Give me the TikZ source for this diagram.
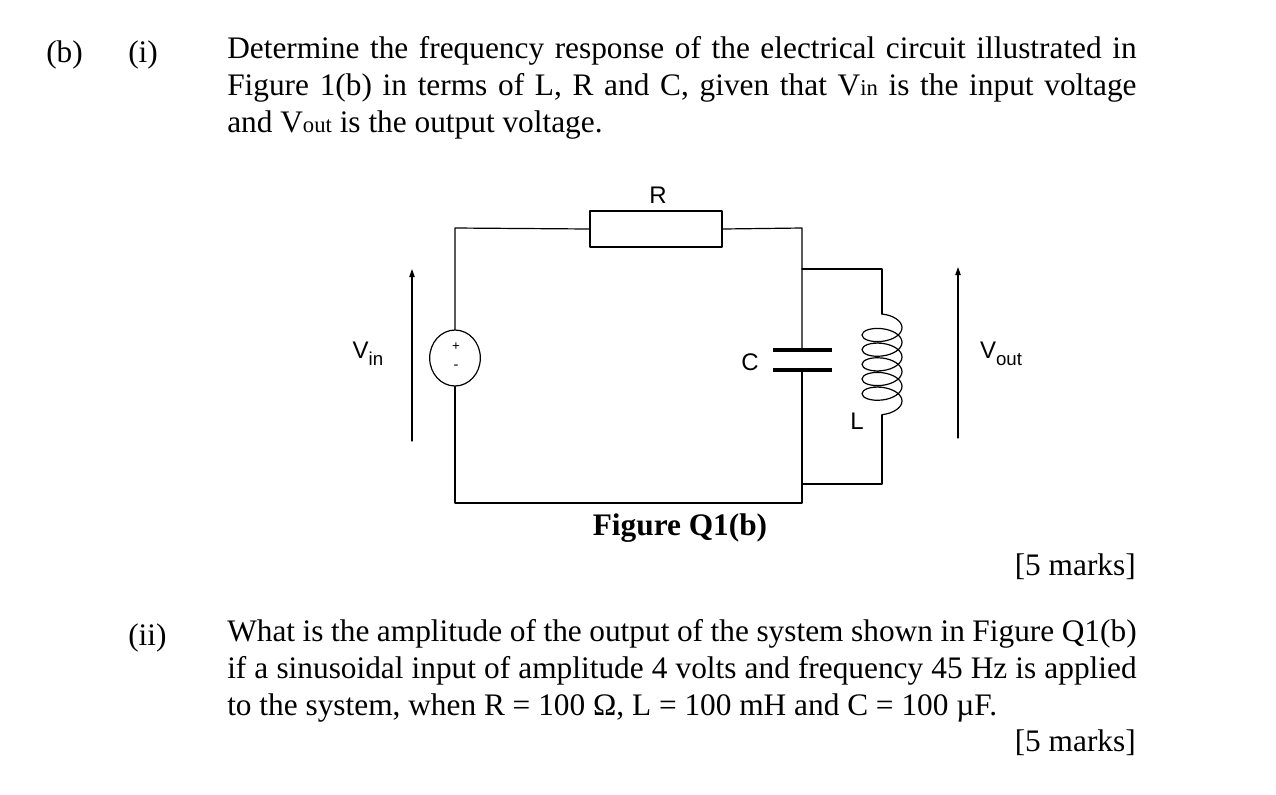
\documentclass[tikz,border=0pt]{standalone}
\usepackage{fontspec}
\setmainfont{Liberation Serif}
\newfontfamily\cktfont{Liberation Sans}
\usetikzlibrary{decorations.pathmorphing,arrows.meta,shapes.geometric}
\newcommand{\sbs}[1]{{\fontsize{17}{17}\selectfont #1}}
\begin{document}
\begin{tikzpicture}[x=0.75pt,y=-0.75pt,line cap=round,line join=round,
  txt/.style={font=\fontsize{23.5}{27.75}\selectfont,inner sep=0pt},
  para/.style={txt,anchor=north west,text width=682pt,align=justify},
  ckt/.style={font=\cktfont\fontsize{18}{18}\selectfont,inner sep=0pt},
  wire/.style={line width=0.9pt},
  volt/.style={line width=0.9pt,-{Triangle[length=6pt,width=4pt]}}]
\useasboundingbox (0,0) rectangle (1276,794);
% text
\node[txt,anchor=base west] (b) at (46,62) {(b)};
\node[txt,anchor=base west] (i) at (128,62) {(i)};
\node[para] (p1) at (227,36) {Determine the frequency response of the electrical circuit illustrated in\linebreak Figure 1(b) in terms of L, R and C, given that V\sbs{in} is the input voltage\linebreak and V\sbs{out} is the output voltage.};
\node[txt,font=\bfseries\fontsize{23.5}{27}\selectfont] (fig) at (680,528) {Figure Q1(b)};
\node[txt,anchor=base east] (m1) at (1136,575) {[5 marks]};
\node[txt,anchor=base west] (ii) at (128,645) {(ii)};
\node[para] (p2) at (227,619) {What is the amplitude of the output of the system shown in Figure Q1(b)\linebreak if a sinusoidal input of amplitude 4 volts and frequency 45 Hz is applied\linebreak to the system, when R = 100 Ω, L = 100 mH and C = 100 µF.};
\node[txt,anchor=base east] (m2) at (1136,751) {[5 marks]};
% circuit
\coordinate (tl) at (455,228);
\coordinate (tr) at (802,228);
\coordinate (bl) at (455,503);
\coordinate (br) at (802,503);
\coordinate (lt) at (802,269);
\coordinate (lb) at (802,484);
\coordinate (lt2) at (882,269);
\coordinate (lb2) at (882,484);
\coordinate (ct) at (802,350);
\coordinate (cb) at (802,370);
\coordinate (ks) at (882,314);
\coordinate (ke) at (882,415);
\node[draw,wire,minimum width=99pt,minimum height=27pt,inner sep=0pt] (R) at (656,229) {};
\node[draw,wire,ellipse,minimum width=38pt,minimum height=42pt,inner sep=0pt] (src) at (455,358) {};
\node[font=\cktfont\fontsize{10}{10}\selectfont,inner sep=0pt] (plus) at (456,347) {+};
\node[font=\cktfont\fontsize{11}{11}\selectfont,inner sep=0pt] (minus) at (456,367) {-};
\draw[wire] (R.west) -- (tl) -- (src.north);
\draw[wire] (src.south) -- (bl) -- (br) -- (cb);
\draw[wire] (R.east) -- (tr) -- (ct);
\draw[line width=3.5pt,line cap=butt] (773,350) -- (832,350) (773,370) -- (832,370);
\draw[wire] (lt) -- (lt2) -- (ks);
\draw[wire] (lb) -- (lb2) -- (ke);
\draw[wire,decorate,decoration={coil,amplitude=15pt,segment length=11pt,aspect=0.5}] (ks) -- (ke);
% labels
\node[ckt] (lR) at (658,195) {R};
\node[ckt] (lC) at (750,362) {C};
\node[ckt] (lL) at (857,421) {L};
\node[ckt] (lVin) at (368,354) {V\raisebox{-5pt}{\fontsize{14}{14}\selectfont in}};
\node[ckt] (lVout) at (1001,354) {V\raisebox{-5pt}{\fontsize{14}{14}\selectfont out}};
\coordinate (vi0) at (412,441); \coordinate (vi1) at (412,269);
\coordinate (vo0) at (958,438); \coordinate (vo1) at (958,267);
\draw[volt] (vi0) -- (vi1);
\draw[volt] (vo0) -- (vo1);
\end{tikzpicture}
\end{document}
